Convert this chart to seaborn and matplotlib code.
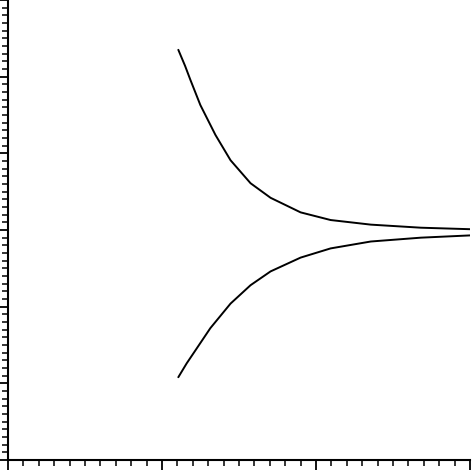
import numpy as np
import matplotlib
matplotlib.use("Agg")
import matplotlib.pyplot as plt
from matplotlib.ticker import MultipleLocator
import seaborn as sns

# branch values
upper_x = [1.106, 1.15, 1.184, 1.249, 1.347, 1.445, 1.575, 1.705, 1.900, 2.095, 2.356, 2.681, 3.006]
upper_y = [5.35, 5.14, 4.96, 4.63, 4.24, 3.91, 3.61, 3.42, 3.23, 3.13, 3.07, 3.03, 3.01]
lower_x = [1.106, 1.16, 1.217, 1.314, 1.445, 1.575, 1.705, 1.900, 2.095, 2.356, 2.681, 3.006]
lower_y = [1.08, 1.26, 1.43, 1.72, 2.04, 2.28, 2.46, 2.64, 2.76, 2.85, 2.90, 2.93]

sns.set_style("ticks")
fig = plt.figure(figsize=(4.74, 4.70), dpi=100)
ax = fig.add_axes([8 / 474, 10 / 470, 462 / 474, 460 / 470])

sns.lineplot(x=upper_x, y=upper_y, ax=ax, color="black", lw=1.4, sort=False)
sns.lineplot(x=lower_x, y=lower_y, ax=ax, color="black", lw=1.4, sort=False)

ax.set_xlim(0, 3.0)
ax.set_ylim(0, 6.0)
ax.xaxis.set_major_locator(MultipleLocator(1))
ax.xaxis.set_minor_locator(MultipleLocator(0.1))
ax.yaxis.set_major_locator(MultipleLocator(1))
ax.yaxis.set_minor_locator(MultipleLocator(0.1))
ax.tick_params(which="major", direction="out", length=7, width=1.3, color="black",
               labelbottom=False, labelleft=False)
ax.tick_params(which="minor", direction="out", length=4, width=1.1, color="black")
for s in ["top", "right"]:
    ax.spines[s].set_visible(False)
for s in ["left", "bottom"]:
    ax.spines[s].set_linewidth(1.5)
    ax.spines[s].set_color("black")

fig.savefig("out.png", dpi=100)
